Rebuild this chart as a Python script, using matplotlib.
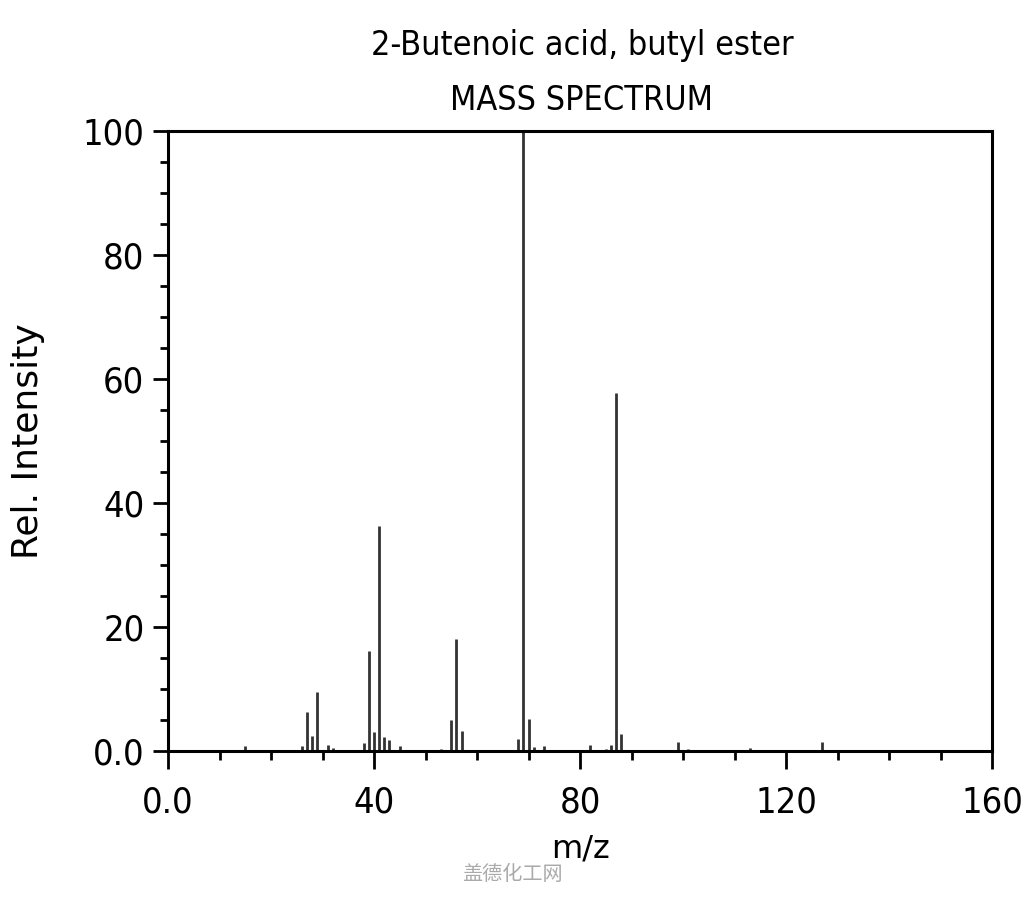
import matplotlib
matplotlib.use("Agg")
import matplotlib.pyplot as plt
from matplotlib.ticker import MultipleLocator, FixedFormatter, FixedLocator

# m/z values and relative intensities
mz = [15, 26, 27, 28, 29, 31, 32, 38, 39, 40, 41, 42, 43, 45, 53, 55, 56, 57,
      68, 69, 70, 71, 73, 82, 85, 86, 87, 88, 99, 101, 113, 127]
intensity = [0.8, 0.8, 6.3, 2.4, 9.5, 1.0, 0.5, 1.3, 16.1, 3.1, 36.3, 2.3, 1.8, 0.8,
             0.4, 5.0, 18.1, 3.3, 2.0, 100.0, 5.2, 0.7, 0.8, 1.0, 0.4, 0.9, 57.7,
             2.7, 1.4, 0.4, 0.5, 1.4]

x_ticks = [0, 40, 80, 120, 160]
x_tick_labels = ["0.0", "40", "80", "120", "160"]
y_ticks = [0, 20, 40, 60, 80, 100]
y_tick_labels = ["0.0", "20", "40", "60", "80", "100"]

title = "2-Butenoic acid, butyl ester"
subtitle = "MASS SPECTRUM"
watermark = "盖德化工网"

fig = plt.figure(figsize=(10.24, 9), dpi=100)
ax = fig.add_axes([168 / 1024, 149 / 900, 824 / 1024, 620 / 900])

ax.vlines(mz, 0, intensity, colors="#333333", linewidth=2.0)

ax.set_xlim(0, 160)
ax.set_ylim(0, 100)

ax.xaxis.set_major_locator(FixedLocator(x_ticks))
ax.xaxis.set_major_formatter(FixedFormatter(x_tick_labels))
ax.xaxis.set_minor_locator(MultipleLocator(10))
ax.yaxis.set_major_locator(FixedLocator(y_ticks))
ax.yaxis.set_major_formatter(FixedFormatter(y_tick_labels))
ax.yaxis.set_minor_locator(MultipleLocator(5))

for lab in ax.get_xticklabels() + ax.get_yticklabels():
    lab.set_fontstretch("condensed")

ax.tick_params(axis="x", which="major", direction="out", length=13, width=2.0,
               pad=12, labelsize=26)
ax.tick_params(axis="x", which="minor", direction="out", length=6.5, width=2.0)
ax.tick_params(axis="y", which="major", direction="out", length=11, width=2.0,
               pad=6, labelsize=26)
ax.tick_params(axis="y", which="minor", direction="out", length=5.5, width=2.0)

for sp in ax.spines.values():
    sp.set_linewidth(2.2)

ax.set_xlabel("m/z", fontsize=23, labelpad=10)
ax.set_ylabel("Rel. Intensity", fontsize=26, va="center")
ax.yaxis.set_label_coords((28 - 168) / 824, 0.5)

fig.text(582 / 1024, 1 - 45 / 900, title, ha="center", va="center",
         fontsize=24.5, fontstretch="condensed")
fig.text(582 / 1024, 1 - 100 / 900, subtitle, ha="center", va="center",
         fontsize=24.5, fontstretch="condensed")

fig.text(512 / 1024, 1 - 875 / 900, watermark, ha="center", va="center",
         fontsize=14.5, color="#aaaaaa", family=["Noto Sans CJK SC", "DejaVu Sans"])

fig.savefig("out.png", dpi=100)
